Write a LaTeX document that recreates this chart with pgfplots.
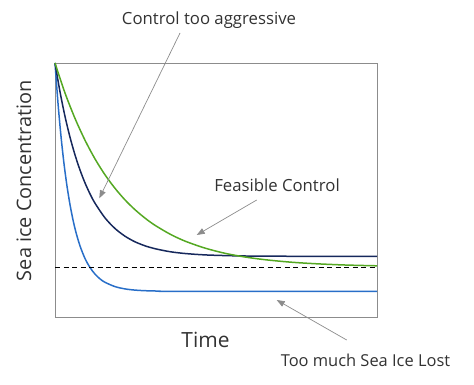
\documentclass[border=0pt]{standalone}
\usepackage{pgfplots}
\pgfplotsset{compat=1.18}
\usetikzlibrary{arrows.meta}
\usepackage{fontspec}
\setmainfont{Open Sans}
\definecolor{cgreen}{RGB}{84,168,34}
\definecolor{cnavy}{RGB}{22,40,92}
\definecolor{cblue}{RGB}{40,110,200}
\definecolor{ctext}{RGB}{50,50,50}
\definecolor{carrow}{RGB}{140,140,140}
\begin{document}
\begin{tikzpicture}[x=1bp,y=1bp]
\path[use as bounding box] (0,0) rectangle (474,384);
\begin{axis}[
  at={(55bp,67bp)}, anchor=south west,
  scale only axis, width=322bp, height=254bp,
  xmin=0, xmax=322, ymin=0, ymax=254,
  ticks=none, axis line style={draw=gray!90, line width=0.8bp},
  clip=false,
]
\addplot[cblue, line width=1.5bp, smooth] coordinates {
(0,254) (3,213.8) (6,180.7) (9,153.3) (12,130.9) (15,112.4) (18,97.1) (21,84.5)
(25,71.1) (30,58.5) (35,49.5) (40,42.9) (45,38.1) (50,34.7) (60,30.4) (70,28.1)
(80,26.9) (90,26.3) (105,25.9) (120,25.7) (322,25.6)};
\addplot[cnavy, line width=1.5bp, smooth] coordinates {
(0,254) (5,225.2) (10,200.6) (15,179.8) (20,162.1) (25,147.0) (30,134.1) (35,123.1)
(40,113.8) (50,99.1) (60,88.5) (70,80.8) (80,75.2) (90,71.2) (100,68.3) (115,65.3)
(130,63.5) (150,62.1) (175,61.3) (200,60.9) (250,60.7) (322,60.6)};
\addplot[cgreen, line width=1.5bp, smooth] coordinates {
(0,254) (10,224.0) (20,198.6) (30,176.8) (40,158.1) (50,142.2) (60,128.7) (70,117.1)
(80,107.3) (90,98.9) (100,91.7) (115,82.9) (130,75.9) (150,68.9) (170,63.7) (190,60.0)
(210,57.3) (235,54.9) (260,53.3) (290,52.0) (322,51.2)};
\addplot[black, line width=1.5bp, dash pattern=on 5bp off 3.5bp] coordinates {(0,49.3) (322,49.3)};
\end{axis}
\draw[carrow, line width=0.7bp, -{Triangle[length=8bp,width=6bp]}] (180,351) -- (99.3,185.7);
\draw[carrow, line width=0.7bp, -{Triangle[length=8bp,width=6bp]}] (256.7,184) -- (196.7,149);
\draw[carrow, line width=0.7bp, -{Triangle[length=8bp,width=6bp]}] (346.7,44) -- (276.7,84);
\node[ctext, font=\fontsize{16.8}{19}\selectfont] at (209,364) {Control too aggressive};
\node[ctext, font=\fontsize{16.8}{19}\selectfont] at (277,199) {Feasible Control};
\node[ctext, font=\fontsize{16.5}{19}\selectfont] at (365.5,24) {Too much Sea Ice Lost};
\node[ctext, font=\fontsize{21}{24}\selectfont] at (205.5,44) {Time};
\node[ctext, font=\fontsize{20}{24}\selectfont, rotate=90] at (24,203.5) {Sea ice Concentration};
\end{tikzpicture}
\end{document}
